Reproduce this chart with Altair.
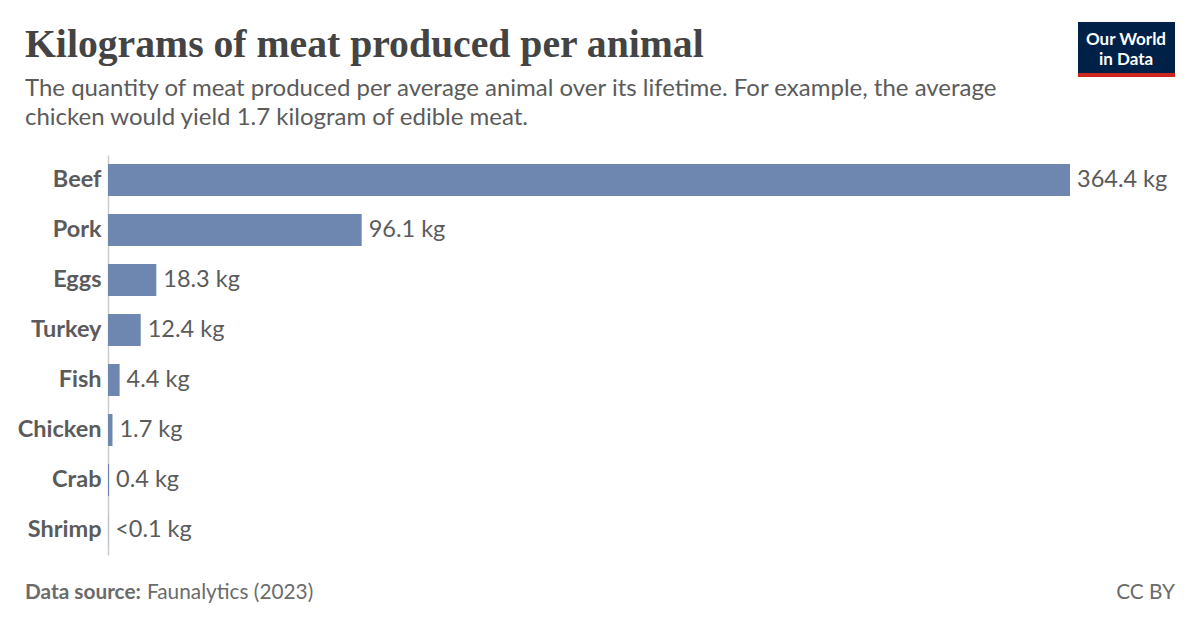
import altair as alt
import pandas as pd

categories = ["Beef", "Pork", "Eggs", "Turkey", "Fish", "Chicken", "Crab", "Shrimp"]
values = [364.4, 96.1, 18.3, 12.4, 4.4, 1.7, 0.4, 0.05]
value_labels = ["364.4 kg", "96.1 kg", "18.3 kg", "12.4 kg", "4.4 kg", "1.7 kg", "0.4 kg", "<0.1 kg"]

title_text = "Kilograms of meat produced per animal"
subtitle_lines = [
    "The quantity of meat produced per average animal over its lifetime. For example, the average",
    "chicken would yield 1.7 kilogram of edible meat.",
]
source_bold = "Data source:"
source_text = "Faunalytics (2023)"
license_text = "CC BY"

df = pd.DataFrame({"cat": categories, "val": values, "lab": value_labels})
one = pd.DataFrame({"k": [0]})

FONT = "Lato"
GREY = "#5b5b5b"
BAR = "#6d87b0"

y_enc = alt.Y("cat:N", sort=categories, title=None,
              scale=alt.Scale(paddingInner=0.36, paddingOuter=0.18),
              axis=alt.Axis(labelFont=FONT, labelFontSize=23.5, labelFontWeight="bold",
                            labelColor=GREY, ticks=False, labelPadding=7,
                            domainColor="#cccccc", domainWidth=1.5))
x_enc = alt.X("val:Q", scale=alt.Scale(domain=[0, 364.4], nice=False), axis=None)

bars = alt.Chart(df).mark_bar(color=BAR).encode(x=x_enc, y=y_enc)
labels = alt.Chart(df).mark_text(align="left", baseline="middle", dx=7, font=FONT,
                                 fontSize=23.5, color=GREY).encode(x=x_enc, y=alt.Y("cat:N", sort=categories), text="lab:N")

def txt(text, x, y, size, weight="normal", font=FONT, color=GREY, align="left", lineHeight=None):
    kw = dict(align=align, baseline="middle", font=font, fontSize=size,
              fontWeight=weight, color=color, text=text)
    if lineHeight:
        kw["lineHeight"] = lineHeight
    return alt.Chart(one).mark_text(**kw).encode(x=alt.value(x), y=alt.value(y))

title = txt(title_text, -83, -110, 39.7, weight="bold", font="Liberation Serif", color="#444444")
subtitle = txt(subtitle_lines, -83, -66, 24, color="#5b5b5b", lineHeight=29)
src1 = txt(source_bold, -83, 438, 20.8, weight="bold", color="#6b6b6b")
src2 = txt(source_text, 39, 438, 20.8, color="#6b6b6b")
lic = txt(license_text, 1067, 438, 20.8, color="#6b6b6b", align="right")

logo_bg = alt.Chart(one).mark_rect(color="#002147").encode(
    x=alt.value(970), x2=alt.value(1067), y=alt.value(-133), y2=alt.value(-82))
logo_red = alt.Chart(one).mark_rect(color="#ce261e").encode(
    x=alt.value(970), x2=alt.value(1067), y=alt.value(-82), y2=alt.value(-78))
logo1 = txt("Our World", 1018, -115, 17, weight="bold", color="white", align="center")
logo2 = txt("in Data", 1018, -95, 17, weight="bold", color="white", align="center")

chart = alt.layer(bars, labels, title, subtitle, src1, src2, lic,
                  logo_bg, logo_red, logo1, logo2).properties(
    width=962, height=400,
    autosize=alt.AutoSizeParams(type="none"),
    padding={"left": 108, "top": 155, "right": 130, "bottom": 72},
    background="white",
).configure_view(stroke=None)

chart.save("out.html", embed_options={"renderer": "svg", "actions": False})
